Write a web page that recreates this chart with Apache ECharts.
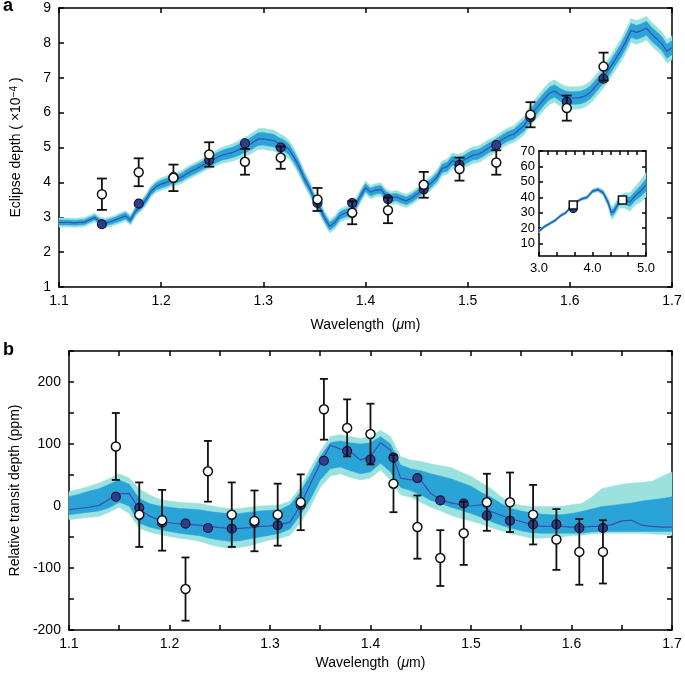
<!DOCTYPE html>
<html>
<head>
<meta charset="utf-8">
<style>
  html, body { margin: 0; padding: 0; width: 100%; height: 100%; overflow: hidden; background: #fff; }
</style>
<script src="https://cdn.jsdelivr.net/npm/echarts@6/dist/echarts.min.js"></script>
</head>
<body>
<div id="container" style="width:685px;height:674px;"></div>
<script>
// ---- panel a : eclipse depth (x1e-4), model sampled every 0.005 um ----
var topStart = 1.1, topStep = 0.005;
var topDepth = [
  2.85, 2.85, 2.85, 2.84, 2.85, 2.86, 2.93, 2.99, 2.88, 2.84,
  2.87, 2.92, 2.98, 3.04, 2.92, 3.18, 3.32, 3.50, 3.74, 3.88,
  3.95, 4.00, 4.06, 4.10, 4.15, 4.25, 4.33, 4.40, 4.48, 4.56,
  4.63, 4.72, 4.78, 4.82, 4.86, 4.92, 5.00, 5.06, 5.15, 5.24,
  5.25, 5.22, 5.20, 5.12, 5.06, 4.95, 4.72, 4.45, 4.12, 3.85,
  3.52, 3.28, 2.98, 2.74, 2.85, 3.05, 3.12, 3.15, 3.32, 3.60,
  3.85, 3.72, 3.78, 3.80, 3.62, 3.55, 3.58, 3.52, 3.47, 3.55,
  3.65, 3.78, 3.88, 4.00, 4.15, 4.40, 4.45, 4.62, 4.58, 4.62,
  4.70, 4.78, 4.80, 4.88, 4.98, 5.05, 5.15, 5.25, 5.33, 5.38,
  5.50, 5.62, 5.85, 6.05, 6.22, 6.40, 6.55, 6.62, 6.52, 6.45,
  6.42, 6.42, 6.43, 6.48, 6.58, 6.75, 6.92, 7.10, 7.32, 7.55,
  7.78, 8.05, 8.36, 8.30, 8.35, 8.42, 8.25, 8.12, 7.98, 7.76,
  7.86
];
// 1 sigma / 2 sigma half widths of the model spread
var topSig1 = [
  0.07, 0.07, 0.07, 0.07, 0.07, 0.07, 0.07, 0.07, 0.07, 0.07,
  0.08, 0.08, 0.09, 0.09, 0.09, 0.09, 0.10, 0.10, 0.10, 0.10,
  0.11, 0.11, 0.11, 0.11, 0.11, 0.12, 0.12, 0.12, 0.12, 0.12,
  0.13, 0.14, 0.14, 0.15, 0.15, 0.16, 0.17, 0.17, 0.18, 0.18,
  0.18, 0.18, 0.18, 0.17, 0.16, 0.15, 0.15, 0.14, 0.13, 0.12,
  0.11, 0.11, 0.11, 0.11, 0.11, 0.11, 0.11, 0.11, 0.11, 0.11,
  0.11, 0.11, 0.11, 0.11, 0.11, 0.11, 0.11, 0.11, 0.11, 0.11,
  0.11, 0.11, 0.12, 0.12, 0.12, 0.12, 0.13, 0.13, 0.13, 0.13,
  0.14, 0.14, 0.14, 0.14, 0.14, 0.14, 0.14, 0.14, 0.14, 0.14,
  0.15, 0.16, 0.17, 0.18, 0.18, 0.18, 0.18, 0.18, 0.18, 0.18,
  0.18, 0.18, 0.18, 0.18, 0.18, 0.18, 0.18, 0.18, 0.18, 0.18,
  0.19, 0.20, 0.20, 0.20, 0.20, 0.20, 0.20, 0.20, 0.20, 0.20,
  0.20
];
var topSig2 = [
  0.13, 0.13, 0.13, 0.13, 0.13, 0.13, 0.13, 0.13, 0.13, 0.13,
  0.14, 0.14, 0.15, 0.15, 0.15, 0.16, 0.16, 0.17, 0.17, 0.17,
  0.18, 0.18, 0.18, 0.18, 0.18, 0.19, 0.19, 0.19, 0.19, 0.19,
  0.21, 0.22, 0.23, 0.24, 0.25, 0.26, 0.27, 0.28, 0.29, 0.30,
  0.30, 0.30, 0.30, 0.29, 0.28, 0.26, 0.25, 0.23, 0.22, 0.21,
  0.19, 0.19, 0.19, 0.19, 0.19, 0.19, 0.19, 0.19, 0.19, 0.19,
  0.19, 0.19, 0.19, 0.19, 0.19, 0.19, 0.19, 0.19, 0.19, 0.19,
  0.19, 0.19, 0.20, 0.20, 0.21, 0.21, 0.22, 0.22, 0.23, 0.23,
  0.24, 0.24, 0.24, 0.24, 0.24, 0.24, 0.24, 0.24, 0.24, 0.24,
  0.26, 0.27, 0.28, 0.30, 0.31, 0.32, 0.32, 0.32, 0.32, 0.32,
  0.32, 0.32, 0.32, 0.32, 0.32, 0.32, 0.32, 0.32, 0.32, 0.32,
  0.33, 0.34, 0.34, 0.34, 0.34, 0.34, 0.34, 0.34, 0.34, 0.34,
  0.34
];
var topBinWl  = [1.142, 1.178, 1.212, 1.247, 1.282, 1.317, 1.353, 1.387, 1.422, 1.457, 1.492, 1.528, 1.5615, 1.597, 1.633];
var topBinMod = [2.80, 3.39, 4.15, 4.64, 5.12, 5.00, 3.41, 3.41, 3.52, 3.80, 4.50, 5.07, 5.87, 6.31, 6.97];
var topObs    = [3.66, 4.29, 4.13, 4.80, 4.59, 4.71, 3.51, 3.13, 3.20, 3.93, 4.38, 4.57, 5.94, 6.13, 7.32];
var topErr    = [0.45, 0.40, 0.38, 0.35, 0.37, 0.32, 0.33, 0.33, 0.37, 0.37, 0.33, 0.35, 0.36, 0.36, 0.40];

// ---- inset : Spitzer range (x1e-4) ----
var insetWl    = [3.0, 3.1, 3.2, 3.3, 3.4, 3.5, 3.6, 3.7, 3.8, 3.9, 4.0, 4.1, 4.2, 4.3, 4.35, 4.4, 4.5, 4.6, 4.7, 4.8, 4.9, 5.0];
var insetDepth = [18, 21, 23, 25, 28, 30, 34, 37, 39, 40, 44, 45, 43, 36, 30, 31, 37, 38, 37, 41, 44, 48];
var insetSig1  = [0.6, 0.6, 0.6, 0.6, 0.6, 0.6, 0.6, 0.6, 0.6, 0.6, 0.8, 0.8, 1, 1.5, 2, 2, 2, 2.5, 3, 3, 3.5, 4];
var insetSig2  = [1, 1, 1, 1, 1, 1, 1, 1, 1, 1.2, 1.4, 1.5, 2, 3, 4, 4, 4, 5, 6, 6, 7, 8];
var insetBinWl = [3.64];
var insetBinMod = [32.8];
var insetObsWl = [3.64, 4.56];
var insetObs   = [35, 38.2];

// ---- panel b : relative transit depth (ppm), model every 0.01 um ----
var botStart = 1.1, botStep = 0.01;
var botDepth = [
  -6, -4, -2, 1, 11, 20, 20, -5, -16, -23,
  -27, -29, -30, -31, -33, -35, -36, -36, -35, -33,
  -32, -30, -26, 0, 35, 68, 98, 92, 88, 74,
  80, 102, 90, 45, 42, 42, 20, 10, 5, 2,
  0, 2, -9, -15, -21, -25, -30, -33, -33, -33,
  -34, -34, -33, -33, -30, -24, -23, -31, -33, -34,
  -34
];
var botLightHi = [
  23, 27, 32, 37, 44, 52, 45, 28, 18, 11,
  8, 6, 5, 4, 1, -2, -4, -4, -2, 0,
  1, 2, 8, 30, 60, 88, 112, 115, 112, 109,
  112, 122, 112, 80, 74, 72, 68, 65, 62, 55,
  48, 38, 28, 15, 5, 1, -1, -1, -1, -1,
  2, 4, 14, 28, 32, 35, 37, 38, 40, 48,
  55
];
var botDarkHi = [
  15, 19, 24, 28, 35, 42, 35, 12, 4, 0,
  -2, -4, -5, -6, -9, -11, -12, -12, -10, -8,
  -7, -6, 2, 22, 50, 80, 102, 105, 102, 100,
  102, 112, 100, 66, 60, 57, 52, 48, 44, 38,
  32, 22, 14, 4, -4, -8, -11, -13, -14, -14,
  -12, -9, -5, -1, 1, 3, 5, 8, 10, 12,
  15
];
var botDarkLo = [
  -14, -12, -10, -8, -3, 6, 0, -28, -34, -38,
  -41, -44, -46, -48, -52, -55, -57, -56, -53, -50,
  -47, -44, -37, -15, 10, 42, 60, 63, 57, 52,
  55, 69, 55, 30, 25, 18, 9, 4, -2, -7,
  -12, -18, -25, -31, -36, -40, -43, -44, -44, -44,
  -44, -44, -42, -41, -41, -41, -41, -41, -41, -41,
  -41
];
var botLightLo = [
  -22, -20, -18, -17, -10, -2, -12, -36, -42, -46,
  -49, -52, -54, -57, -62, -66, -68, -67, -64, -59,
  -55, -52, -47, -28, -2, 30, 48, 52, 46, 42,
  45, 58, 42, 18, 14, 6, -2, -8, -15, -20,
  -24, -29, -35, -40, -45, -48, -52, -52, -51, -50,
  -48, -47, -45, -44, -44, -44, -44, -44, -45, -46,
  -47
];
var botBinWl  = [1.1467, 1.170, 1.1927, 1.216, 1.2383, 1.262, 1.2846, 1.3077, 1.3306, 1.3537, 1.3768,
                 1.400, 1.4229, 1.4467, 1.4695, 1.4928, 1.5158, 1.5388, 1.5618, 1.585, 1.6078, 1.6313];
var botBinMod = [15, -3, -27, -28.5, -35.5, -36.6, -27, -31, 1.6, 73, 88.7,
                 75, 78, 45, 9, 4, -15.6, -23.7, -29.6, -29.6, -35.5, -35.5];
var botObs    = [96, -14, -23, -134, 56, -14, -24, -14, 6, 156, 126,
                 116, 36, -34, -84, -44, 6, 6, -14, -54, -74, -74];
var botErr    = [54, 52, 49, 51, 49, 52, 49, 50, 45, 49, 46,
                 49, 46, 51, 45, 51, 46, 48, 48, 49, 53, 51];

var LIGHT = '#9be2df', DARK = '#2aa4d6', LINE = '#3b4db3', FILLED = '#2e3c96', INK = '#111';
var FONT = 'Liberation Sans';

function grid(start, step, n) {
  var a = [];
  for (var i = 0; i < n; i++) a.push(+(start + i * step).toFixed(4));
  return a;
}
function pairs(xs, ys) {
  return xs.map(function (x, i) { return [x, ys[i]]; });
}
function shift(ys, ws, sign) {
  return ys.map(function (y, i) { return +(y + sign * ws[i]).toFixed(3); });
}

// one filled polygon between lo and hi, drawn from the first data item
function band(xs, lo, hi, color, xi, yi, z) {
  return {
    type: 'custom', xAxisIndex: xi, yAxisIndex: yi, z: z, silent: true,
    data: xs.map(function (x, i) { return [x, lo[i], hi[i]]; }),
    encode: { x: 0, y: [1, 2] },
    renderItem: function (params, api) {
      if (params.dataIndex !== 0) return null;
      var n = xs.length, top = [], bot = [];
      for (var j = 0; j < n; j++) {
        top.push(api.coord([api.value(0, j), api.value(2, j)]));
        bot.push(api.coord([api.value(0, j), api.value(1, j)]));
      }
      return { type: 'polygon', shape: { points: top.concat(bot.reverse()) },
               style: { fill: color, stroke: color, lineWidth: 0.5 } };
    }
  };
}
function modelLine(xs, ys, xi, yi, z) {
  return { type: 'line', xAxisIndex: xi, yAxisIndex: yi, data: pairs(xs, ys), symbol: 'none',
           silent: true, z: z, lineStyle: { color: LINE, width: 1.2 } };
}
function dots(xs, ys, xi, yi, filled, z, shape, size) {
  return { type: 'scatter', xAxisIndex: xi, yAxisIndex: yi, data: pairs(xs, ys), z: z,
           symbol: shape || 'circle', symbolSize: size || 9, silent: true,
           itemStyle: { color: filled ? FILLED : '#fff', borderColor: INK, borderWidth: filled ? 1.1 : 1.5, opacity: 1 } };
}
function errorBars(xs, ys, errs, xi, yi, cap, z) {
  return {
    type: 'custom', xAxisIndex: xi, yAxisIndex: yi, z: z, silent: true,
    data: xs.map(function (x, i) { return [x, ys[i] - errs[i], ys[i] + errs[i]]; }),
    encode: { x: 0, y: [1, 2] },
    renderItem: function (params, api) {
      var lo = api.coord([api.value(0), api.value(1)]);
      var hi = api.coord([api.value(0), api.value(2)]);
      var s = { stroke: INK, lineWidth: 1.8 };
      return { type: 'group', children: [
        { type: 'line', shape: { x1: lo[0], y1: lo[1], x2: hi[0], y2: hi[1] }, style: s },
        { type: 'line', shape: { x1: lo[0] - cap, y1: lo[1], x2: lo[0] + cap, y2: lo[1] }, style: s },
        { type: 'line', shape: { x1: hi[0] - cap, y1: hi[1], x2: hi[0] + cap, y2: hi[1] }, style: s }
      ] };
    }
  };
}

var axLine = { show: true, onZero: false, lineStyle: { color: '#000', width: 1.5 } };
var tick = { show: true, inside: true, length: 5, lineStyle: { color: '#000', width: 1.5 } };
var lab = { color: '#000', fontSize: 14, fontFamily: FONT, margin: 8 };
function tenths(v) { return Math.abs(v * 10 - Math.round(v * 10)) < 1e-6 ? v.toFixed(1) : ''; }
function mirror(a) {
  return Object.assign({}, a, { axisLabel: { show: false }, name: '' });
}

var topWl = grid(topStart, topStep, topDepth.length);
var botWl = grid(botStart, botStep, botDepth.length);

var xTop = { type: 'value', gridIndex: 0, min: 1.1, max: 1.7, interval: 0.1, position: 'bottom',
  axisLine: axLine, axisTick: tick, splitLine: { show: false },
  axisLabel: Object.assign({}, lab, { margin: 7, formatter: function (v) { return v.toFixed(1); } }),
  name: '{t|Wavelength  (}{i|\u03bc}{t|m)}', nameLocation: 'middle', nameGap: 31,
  nameTextStyle: { rich: { t: { fontSize: 14, fontFamily: FONT, color: '#000' },
                           i: { fontSize: 14, fontFamily: FONT, color: '#000', fontStyle: 'italic' } } } };
var yTop = { type: 'value', gridIndex: 0, min: 1, max: 9, interval: 1, position: 'left',
  axisLine: axLine, axisTick: tick, splitLine: { show: false }, axisLabel: lab,
  name: '{t|Eclipse depth ( \u00d710}{s|\u22124}{t| )}', nameLocation: 'middle', nameGap: 36, nameRotate: 90,
  nameTextStyle: { rich: { t: { fontSize: 14, fontFamily: FONT, color: '#000', verticalAlign: 'bottom' },
                           s: { fontSize: 10, fontFamily: FONT, color: '#000', verticalAlign: 'top' } } } };

var xBot = Object.assign({}, xTop, { gridIndex: 1, interval: 0.05, nameGap: 26,
  axisLabel: Object.assign({}, lab, { margin: 7, formatter: tenths }) });
var yBot = { type: 'value', gridIndex: 1, min: -200, max: 250, interval: 50, position: 'left',
  axisLine: axLine, axisTick: tick, splitLine: { show: false },
  axisLabel: Object.assign({}, lab, { formatter: function (v) { return v % 100 === 0 ? String(v) : ''; } }),
  name: 'Relative transit depth (ppm)', nameLocation: 'middle', nameGap: 41, nameRotate: 90,
  nameTextStyle: { fontSize: 14, fontFamily: FONT, color: '#000' } };

var inLab = { color: '#000', fontSize: 13, fontFamily: FONT };
var xIn = { type: 'value', gridIndex: 2, min: 3, max: 5, position: 'bottom', z: 10,
  axisLine: axLine, splitLine: { show: false },
  axisTick: Object.assign({}, tick, { length: 4, customValues: [3, 3.333, 3.667, 4, 4.333, 4.667, 5] }),
  axisLabel: Object.assign({}, inLab, { margin: 6, customValues: [3, 4, 5], formatter: function (v) { return v.toFixed(1); } }) };
var yIn = { type: 'value', gridIndex: 2, min: 2, max: 70, position: 'left', z: 10,
  axisLine: axLine, splitLine: { show: false },
  axisTick: Object.assign({}, tick, { length: 4, customValues: [10, 20, 30, 40, 50, 60, 70] }),
  axisLabel: Object.assign({}, inLab, { margin: 4, customValues: [10, 20, 30, 40, 50, 60, 70] }) };

var series = [
  band(topWl, shift(topDepth, topSig2, -1), shift(topDepth, topSig2, 1), LIGHT, 0, 0, 2),
  band(topWl, shift(topDepth, topSig1, -1), shift(topDepth, topSig1, 1), DARK, 0, 0, 2),
  modelLine(topWl, topDepth, 0, 0, 3),
  dots(topBinWl, topBinMod, 0, 0, true, 4),
  errorBars(topBinWl, topObs, topErr, 0, 0, 5, 5),
  dots(topBinWl, topObs, 0, 0, false, 6),

  band(botWl, botLightLo, botLightHi, LIGHT, 2, 2, 2),
  band(botWl, botDarkLo, botDarkHi, DARK, 2, 2, 2),
  modelLine(botWl, botDepth, 2, 2, 3),
  dots(botBinWl, botBinMod, 2, 2, true, 4),
  errorBars(botBinWl, botObs, botErr, 2, 2, 4, 5),
  dots(botBinWl, botObs, 2, 2, false, 6),

  band(insetWl, shift(insetDepth, insetSig2, -1), shift(insetDepth, insetSig2, 1), LIGHT, 4, 4, 12),
  band(insetWl, shift(insetDepth, insetSig1, -1), shift(insetDepth, insetSig1, 1), DARK, 4, 4, 12),
  modelLine(insetWl, insetDepth, 4, 4, 13),
  dots(insetBinWl, insetBinMod, 4, 4, true, 14, 'circle', 8),
  dots(insetObsWl, insetObs, 4, 4, false, 15, 'rect', 8)
];

var option = {
  animation: false,
  backgroundColor: '#fff',
  grid: [
    { left: 59, right: 13, top: 8, height: 279 },
    { left: 59, right: 13, top: 351, height: 279 },
    { left: 539, width: 107, top: 151, height: 105, show: true, backgroundColor: '#fff', borderWidth: 0, z: 10 }
  ],
  xAxis: [
    xTop, mirror(Object.assign({}, xTop, { position: 'top' })),
    xBot, mirror(Object.assign({}, xBot, { position: 'top' })),
    xIn, mirror(Object.assign({}, xIn, { position: 'top',
      axisTick: Object.assign({}, xIn.axisTick, { customValues: [3.167, 3.333, 3.5, 3.667, 3.833, 4, 4.167, 4.333, 4.5, 4.667, 4.833] }) }))
  ],
  yAxis: [
    yTop, mirror(Object.assign({}, yTop, { position: 'right' })),
    yBot, mirror(Object.assign({}, yBot, { position: 'right' })),
    yIn, mirror(Object.assign({}, yIn, { position: 'right' }))
  ],
  graphic: [
    { type: 'text', left: 3, top: -3, style: { text: 'a', font: 'bold 18px "Liberation Sans"', fill: '#000' } },
    { type: 'text', left: 3, top: 341, style: { text: 'b', font: 'bold 18px "Liberation Sans"', fill: '#000' } }
  ],
  series: series
};

var chart = echarts.init(document.getElementById('container'), null, { renderer: 'canvas' });
chart.setOption(option);
</script>
</body>
</html>
